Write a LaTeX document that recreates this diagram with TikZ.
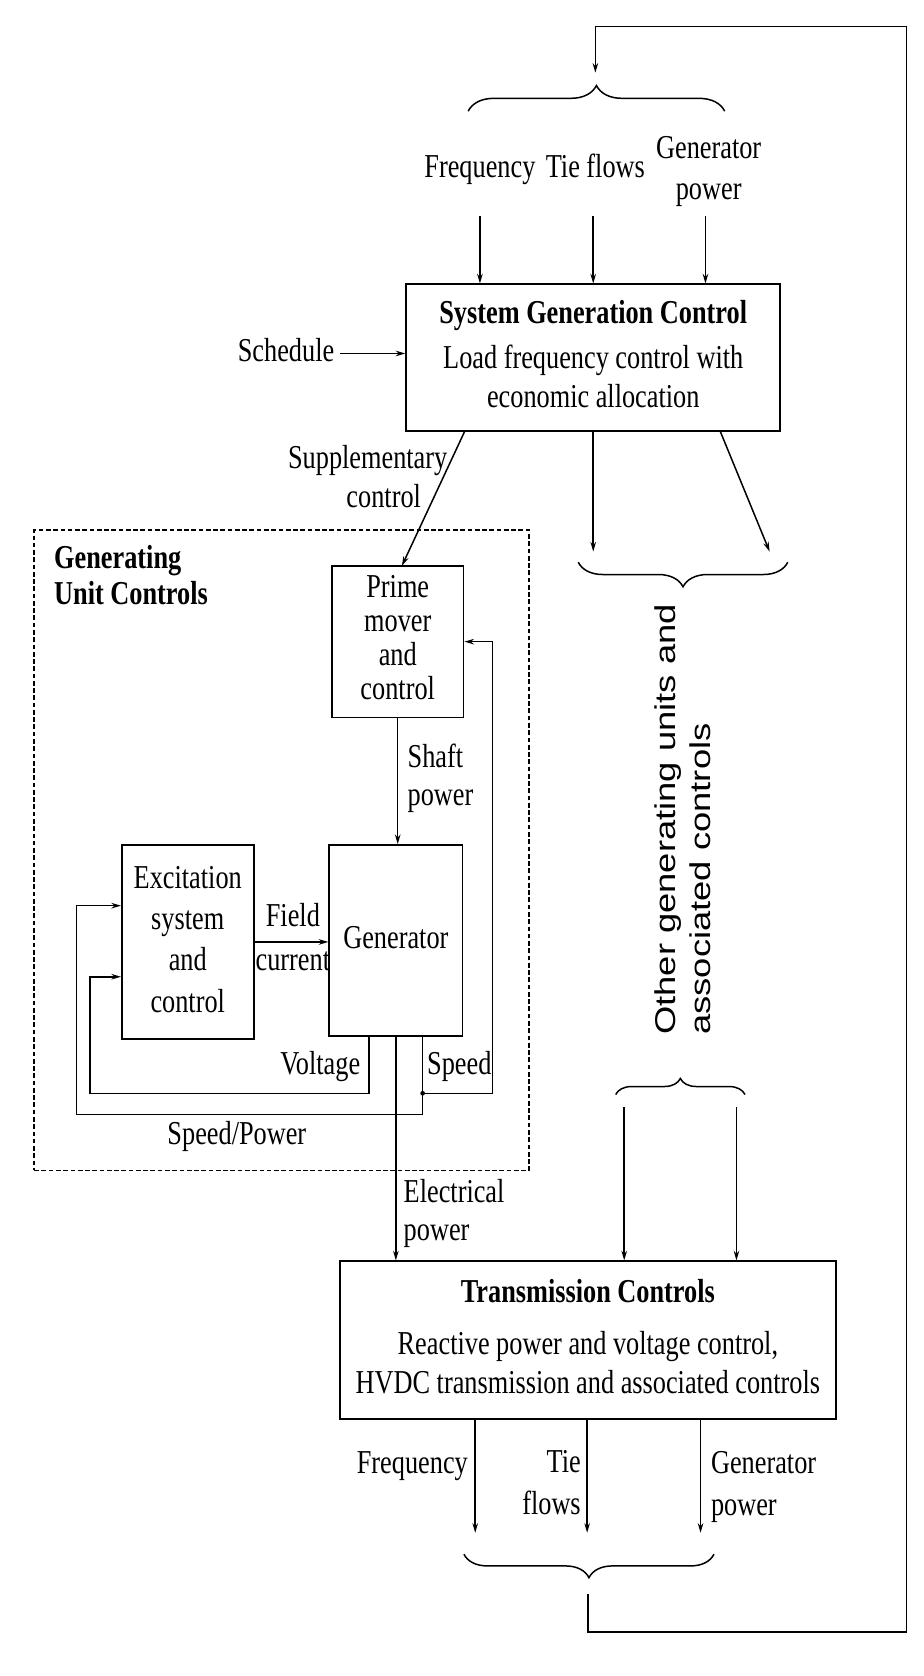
\documentclass[tikz,border=0pt]{standalone}
\usepackage{fontspec}
\setmainfont{Liberation Serif}
\newfontfamily\sansf{Liberation Sans}
\usetikzlibrary{arrows.meta,decorations.pathreplacing}
\newcommand\blk[3]{\scalebox{1}[1.27]{\fontsize{12.3pt}{#2}\selectfont\begin{tabular}{@{}#1@{}}#3\end{tabular}}}
\begin{document}
\begin{tikzpicture}[x={(0.5pt,0)}, y={(0,-0.5pt)}, line width=0.7pt,
  box/.style={draw, line width=0.8pt, inner sep=0pt, rectangle},
  arr/.style={-{Stealth[length=4.5pt,width=2.6pt]}},
  lbl/.style={inner sep=0pt},
  brc/.style={decorate, decoration={brace, amplitude=#1}},
  brcm/.style={decorate, decoration={brace, mirror, amplitude=#1}},
  dbox/.style={draw, dash pattern=on 2.2pt off 1.2pt, line width=0.7pt, rectangle, inner sep=0pt}]
\useasboundingbox (0,0) rectangle (864,1568);
\fill[white] (0,0) rectangle (864,1568);

% ---------- boxes ----------
\node[box, minimum width=175pt, minimum height=68.5pt] (sgc) at (555,334.5)
  {\blk{c}{14.2pt}{\textbf{System Generation Control}\\[2.7pt] Load frequency control with\\ economic allocation}};
\node[box, minimum width=232pt, minimum height=73.8pt] (tc) at (550,1253.8)
  {\blk{c}{14.2pt}{\textbf{Transmission Controls}\\[5.1pt] Reactive power and voltage control,\\ HVDC transmission and associated controls}};
\node[dbox, minimum width=231.5pt, minimum height=299.5pt] (guc) at (263.5,795.5) {};
\node[lbl, anchor=west] (gucl) at (50,542) {\blk{l}{13.4pt}{\textbf{Generating}\\ \textbf{Unit Controls}}};
\node[box, minimum width=61.6pt, minimum height=70.95pt] (pm) at (372.1,600.35)
  {\blk{c}{12.6pt}{Prime\\mover\\and\\control}};
\node[box, minimum width=62.35pt, minimum height=89.5pt] (gen) at (370.35,880)
  {\blk{c}{14pt}{Generator}};
\node[box, minimum width=61.65pt, minimum height=90.75pt] (exc) at (175.65,881.25)
  {\blk{c}{15.2pt}{Excitation\\system\\and\\control}};

% ---------- labels ----------
\node[lbl] (sched) at (267.6,330.7) {\blk{c}{14pt}{Schedule}};
\node[lbl] (fT) at (449,159) {\blk{c}{14pt}{Frequency}};
\node[lbl] (tT) at (557,159) {\blk{c}{14pt}{Tie flows}};
\node[lbl] (gT) at (663,160) {\blk{c}{15pt}{Generator\\power}};
\node[lbl] (supl) at (344,449.3) {\blk{c}{14.6pt}{Supplementary\\\hspace*{15pt}control}};
\node[lbl, anchor=west] (shaft) at (380.7,728.7) {\blk{l}{13.8pt}{Shaft\\power}};
\node[lbl] (field) at (274,879) {\blk{c}{16.5pt}{Field\\current}};
\node[lbl] (volt) at (299.6,998.5) {\blk{c}{14pt}{Voltage}};
\node[lbl] (spd) at (429.7,998.5) {\blk{c}{14pt}{Speed}};
\node[lbl] (sppw) at (221.6,1063.9) {\blk{c}{14pt}{Speed/Power}};
\node[lbl, anchor=west] (elec) at (377,1135.8) {\blk{l}{13.8pt}{Electrical\\power}};
\node[lbl, anchor=east] (fB) at (438.4,1371) {\blk{c}{14pt}{Frequency}};
\node[lbl, anchor=east] (tB) at (544,1389.5) {\blk{r}{15.4pt}{Tie\\flows}};
\node[lbl, anchor=west] (gB) at (664.5,1390) {\blk{l}{15.4pt}{Generator\\power}};
\node[lbl, anchor=west, yscale=1.27, rotate=90, align=left,
  font=\sansf\fontsize{13.4pt}{16.5pt}\selectfont] (other) at (638.7,969)
  {Other generating units and\\associated controls};

% ---------- top loop and inputs ----------
\coordinate (bbtip) at (550,1491);
\coordinate (c1) at (848,1527);
\coordinate (c2) at (848,25);
\coordinate (tin) at (557,68);
\draw[arr] (bbtip) |- (c1) -- (c2) -| (tin);
\draw[brc=12pt] (438,104) -- (678,104);
\coordinate (ta1) at (449,202);
\coordinate (ta2) at (555,202);
\coordinate (ta3) at (660,202);
\draw[arr] (ta1) -- (ta1 |- sgc.north);
\draw[arr] (ta2) -- (ta2 |- sgc.north);
\draw[arr] (ta3) -- (ta3 |- sgc.north);
\draw[arr] ([xshift=2.5pt]sched.east) -- (sched.east -| sgc.west);

% ---------- SGC outputs ----------
\coordinate (s0) at (435,403);
\coordinate (s1) at (376,529.4);
\draw[arr] (s0) -- (s1);
\coordinate (v1) at (555,516);
\draw[arr] (ta2 |- sgc.south) -- (v1);
\coordinate (r0) at (673.6,403);
\coordinate (r1) at (720,516);
\draw[arr] (r0) -- (r1);
\draw[brcm=11.5pt] (541,526) -- (737,526);

% ---------- other units to transmission ----------
\draw[brc=7.5pt] (576,1024) -- (697,1024);
\coordinate (la1) at (584,1036);
\coordinate (la2) at (689,1036);
\draw[arr] (la1) -- (la1 |- tc.north);
\draw[arr] (la2) -- (la2 |- tc.north);

% ---------- transmission outputs ----------
\coordinate (ba1) at (444.6,1434);
\coordinate (ba2) at (549.3,1434);
\coordinate (ba3) at (655.4,1434);
\draw[arr] (ba1 |- tc.south) -- (ba1);
\draw[arr] (ba2 |- tc.south) -- (ba2);
\draw[arr] (ba3 |- tc.south) -- (ba3);
\draw[brcm=11pt] (434,1454) -- (668,1454);

% ---------- generating unit internals ----------
\draw[arr] (pm.south) -- (pm.south |- gen.north);
\draw[arr] (exc.east) -- (exc.east -| gen.west);
\coordinate (vb) at (345.4,1022.8);
\coordinate (vl) at (84.3,913.8);
\draw[arr] (vb |- gen.south) -- (vb) -| (vl) -- (vl -| exc.west);
\coordinate (sb) at (395.4,1042.7);
\coordinate (sl) at (71.8,847.3);
\draw[arr] (sb |- gen.south) -- (sb) -| (sl) -- (sl -| exc.west);
\coordinate (sj) at (395.4,1022.8);
\coordinate (sr) at (460.9,600.3);
\draw[arr] (sj) -| (sr) -- (sr -| pm.east);
\fill (sj) circle (1.1pt);
\draw[arr] (gen.south) -- (gen.south |- tc.north);
\end{tikzpicture}
\end{document}
